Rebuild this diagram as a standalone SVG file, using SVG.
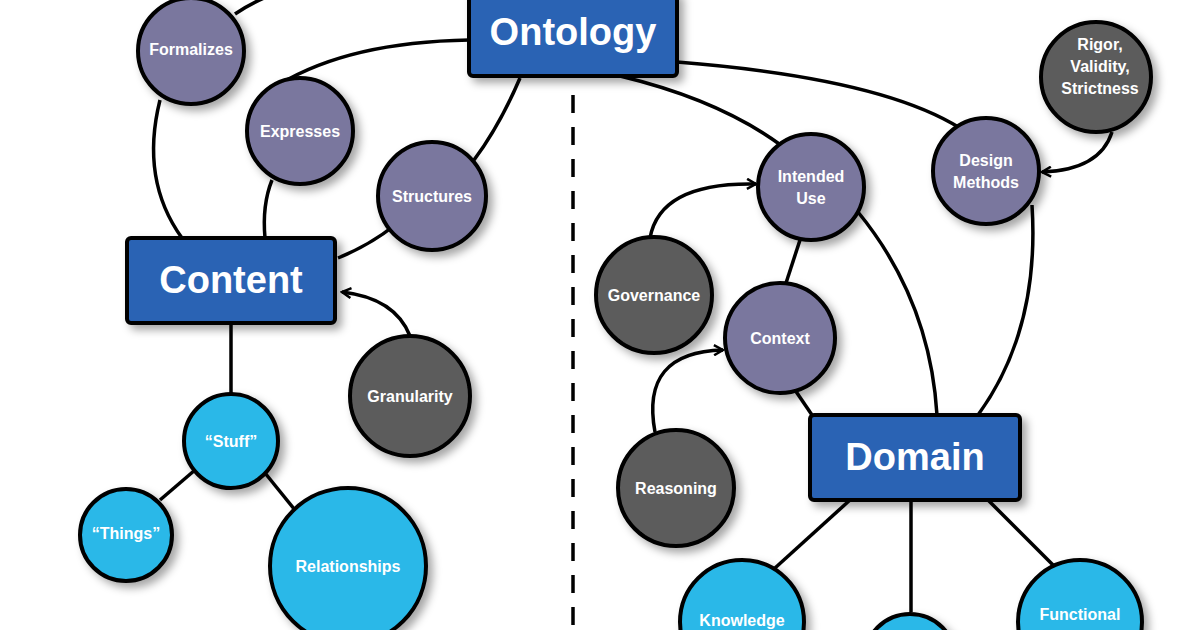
<svg xmlns="http://www.w3.org/2000/svg" width="1200" height="630" viewBox="0 0 1200 630">
<defs>
<filter id="sh" x="-30%" y="-30%" width="160%" height="160%"><feDropShadow dx="5" dy="5" stdDeviation="4" flood-color="#000" flood-opacity="0.35"/></filter>
<marker id="ar" viewBox="0 0 12 12" refX="10" refY="6" markerWidth="12" markerHeight="12" markerUnits="userSpaceOnUse" orient="auto"><path d="M1,1 L10,6 L1,11" fill="none" stroke="#000" stroke-width="2.5"/></marker>
<style>
.c{stroke:#000;stroke-width:4;filter:url(#sh)}
.p{fill:#7a779e}.g{fill:#5c5c5c}.b{fill:#29b8e8}
.box{fill:#2a63b4;stroke:#000;stroke-width:4;filter:url(#sh)}
text{font-family:"Liberation Sans",Arial,sans-serif;font-weight:bold;fill:#fff;text-anchor:middle;dominant-baseline:central}
.s{font-size:16px}.big{font-size:38px}
.l{fill:none;stroke:#000;stroke-width:3.5}
</style>
</defs>
<rect width="1200" height="630" fill="#fff"/>
<line x1="573" y1="95" x2="573" y2="630" stroke="#000" stroke-width="3.5" stroke-dasharray="18,14"/>
<g id="connectors">
<path class="l" d="M235,14 Q255,0 285,-10"/>
<path class="l" d="M469,40 Q350,42 280,84"/>
<path class="l" d="M520,78 Q500,125 474,160"/>
<path class="l" d="M160,100 Q140,180 182,238"/>
<path class="l" d="M272,180 Q262,205 265,238"/>
<path class="l" d="M395,225 Q370,245 338,258"/>
<path class="l" d="M410,336 Q395,298 342,292" marker-end="url(#ar)"/>
<path class="l" d="M231,323 L231,394"/>
<path class="l" d="M195,470 L160,500"/>
<path class="l" d="M265,473 L295,510"/>
<path class="l" d="M677,62 Q880,78 960,128"/>
<path class="l" d="M620,76 Q720,100 782,146"/>
<path class="l" d="M1112,132 Q1100,170 1042,172" marker-end="url(#ar)"/>
<path class="l" d="M650,238 Q660,182 756,184" marker-end="url(#ar)"/>
<path class="l" d="M800,240 L786,283"/>
<path class="l" d="M858,212 Q930,300 937,415"/>
<path class="l" d="M1032,205 Q1040,330 978,415"/>
<path class="l" d="M795,390 L812,415"/>
<path class="l" d="M655,432 Q640,352 723,350" marker-end="url(#ar)"/>
<path class="l" d="M850,500 L775,568"/>
<path class="l" d="M911,500 L911,612"/>
<path class="l" d="M988,500 L1053,565"/>
</g>
<g id="ontology"><rect class="box" x="469" y="-8" width="208" height="84" rx="4"/><text class="big" x="573" y="32">Ontology</text></g>
<g id="formalizes"><ellipse class="c p" cx="191" cy="51" rx="53" ry="53"/><text class="s" x="191" y="49">Formalizes</text></g>
<g id="expresses"><circle class="c p" cx="300" cy="131" r="53"/><text class="s" x="300" y="131">Expresses</text></g>
<g id="structures"><circle class="c p" cx="432" cy="196" r="54"/><text class="s" x="432" y="196">Structures</text></g>
<g id="content"><rect class="box" x="127" y="238" width="208" height="85" rx="4"/><text class="big" x="231" y="280">Content</text></g>
<g id="granularity"><circle class="c g" cx="410" cy="396" r="60"/><text class="s" x="410" y="396">Granularity</text></g>
<g id="stuff"><circle class="c b" cx="231" cy="441" r="47"/><text class="s" x="231" y="441">“Stuff”</text></g>
<g id="things"><circle class="c b" cx="126" cy="535" r="46"/><text class="s" x="126" y="533">“Things”</text></g>
<g id="relationships"><circle class="c b" cx="348" cy="566" r="78"/><text class="s" x="348" y="566">Relationships</text></g>
<g id="intended-use"><circle class="c p" cx="811" cy="187" r="53"/><text class="s" x="811" y="176">Intended</text><text class="s" x="811" y="198">Use</text></g>
<g id="design-methods"><circle class="c p" cx="986" cy="171" r="53"/><text class="s" x="986" y="160">Design</text><text class="s" x="986" y="182">Methods</text></g>
<g id="rigor"><circle class="c g" cx="1096" cy="77" r="55"/><text class="s" x="1100" y="44">Rigor,</text><text class="s" x="1100" y="66">Validity,</text><text class="s" x="1100" y="88">Strictness</text></g>
<g id="governance"><circle class="c g" cx="654" cy="295" r="58"/><text class="s" x="654" y="295">Governance</text></g>
<g id="context"><circle class="c p" cx="780" cy="338" r="55"/><text class="s" x="780" y="338">Context</text></g>
<g id="reasoning"><circle class="c g" cx="676" cy="488" r="58"/><text class="s" x="676" y="488">Reasoning</text></g>
<g id="domain"><rect class="box" x="810" y="415" width="210" height="85" rx="4"/><text class="big" x="915" y="457">Domain</text></g>
<g id="knowledge"><circle class="c b" cx="742" cy="622" r="62"/><text class="s" x="742" y="620">Knowledge</text></g>
<g id="middle"><circle class="c b" cx="910" cy="660" r="46"/></g>
<g id="functional"><circle class="c b" cx="1080" cy="622" r="62"/><text class="s" x="1080" y="614">Functional</text></g>
</svg>
